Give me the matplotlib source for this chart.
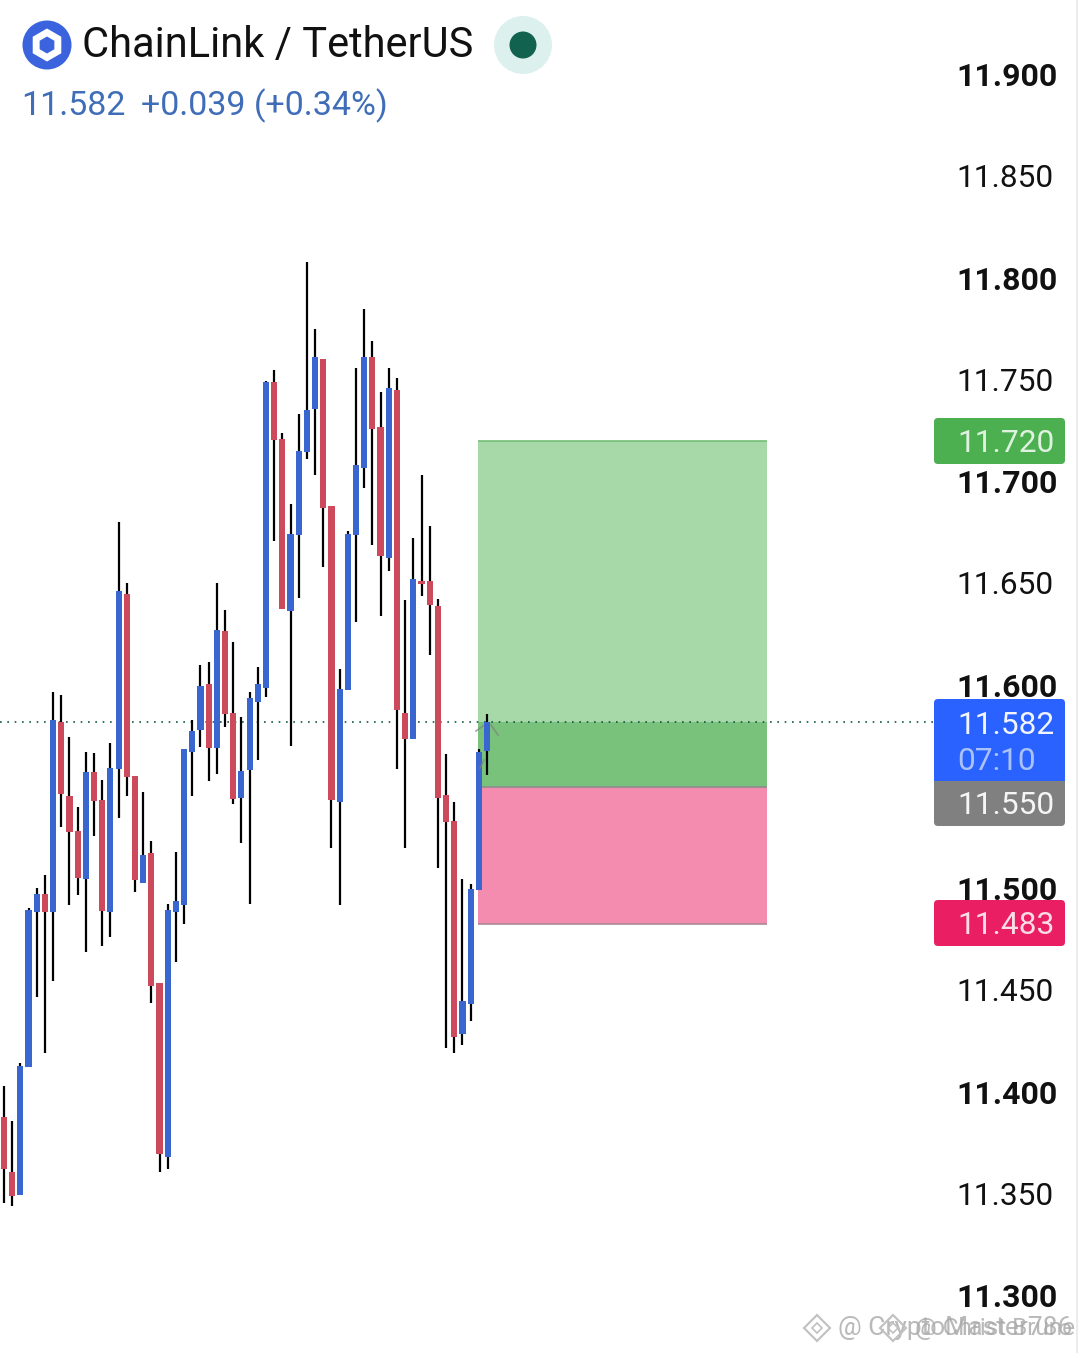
import numpy as np
import matplotlib
matplotlib.use("Agg")
import matplotlib.pyplot as plt
from matplotlib.patches import Circle, FancyBboxPatch, RegularPolygon, Rectangle

plt.rcParams['font.family'] = ['Roboto', 'DejaVu Sans']

# candles
opens = [11.3880, 11.3608, 11.3495, 11.4126, 11.4887, 11.4976, 11.4887, 11.5821, 11.5457, 11.5285,
         11.5050, 11.5575, 11.5438, 11.4887, 11.5590, 11.6450, 11.5556, 11.5030, 11.5177, 11.4536,
         11.3685, 11.4887, 11.4922, 11.5674, 11.5782, 11.6008, 11.5693, 11.6268, 11.5865, 11.5448,
         11.5585, 11.5919, 11.5988, 11.7492, 11.7212, 11.6367, 11.6740, 11.7148, 11.7359, 11.7605,
         11.6883, 11.5428, 11.5978, 11.6740, 11.7069, 11.7615, 11.7271, 11.6627, 11.7453, 11.5865,
         11.5738, 11.6514, 11.6514, 11.6391, 11.5462, 11.5335, 11.4288, 11.4435, 11.4996, 11.5679]
highs = [11.4030, 11.3860, 11.4145, 11.4907, 11.5005, 11.5069, 11.5968, 11.5954, 11.5747, 11.5403,
         11.5674, 11.5669, 11.5536, 11.5718, 11.6804, 11.6504, 11.5556, 11.5477, 11.5236, 11.4536,
         11.4927, 11.5182, 11.5688, 11.5831, 11.6101, 11.6116, 11.6504, 11.6371, 11.6214, 11.5846,
         11.5968, 11.6091, 11.7497, 11.7551, 11.7241, 11.6892, 11.7335, 11.8082, 11.7752, 11.7605,
         11.6883, 11.6082, 11.6760, 11.7561, 11.7851, 11.7693, 11.7443, 11.7561, 11.7512, 11.6421,
         11.6725, 11.7035, 11.6784, 11.6426, 11.5664, 11.5428, 11.5050, 11.5025, 11.5688, 11.5860]
lows = [11.3455, 11.3440, 11.3495, 11.4126, 11.4470, 11.4195, 11.4548, 11.5305, 11.4922, 11.4971,
        11.4691, 11.5261, 11.4720, 11.4765, 11.5349, 11.5457, 11.4986, 11.5030, 11.4442, 11.3610,
        11.3625, 11.4642, 11.4828, 11.5457, 11.5698, 11.5531, 11.5566, 11.5797, 11.5418, 11.5226,
        11.4927, 11.5634, 11.5944, 11.6711, 11.6376, 11.5703, 11.6430, 11.7113, 11.7035, 11.6583,
        11.5202, 11.4922, 11.5978, 11.6312, 11.6971, 11.6691, 11.6342, 11.6563, 11.5590, 11.5202,
        11.5738, 11.6440, 11.6150, 11.5104, 11.4219, 11.4195, 11.4234, 11.4352, 11.4996, 11.5561]
closes = [11.3622, 11.3490, 11.4130, 11.4897, 11.4976, 11.4887, 11.5831, 11.5467, 11.5281, 11.5055,
          11.5575, 11.5433, 11.4892, 11.5595, 11.6465, 11.5551, 11.5045, 11.5168, 11.4522, 11.3700,
          11.4897, 11.4941, 11.5688, 11.5777, 11.5998, 11.5693, 11.6273, 11.5860, 11.5443, 11.5580,
          11.5939, 11.6008, 11.7492, 11.7207, 11.6376, 11.6745, 11.7153, 11.7354, 11.7615, 11.6873,
          11.5438, 11.5983, 11.6745, 11.7084, 11.7615, 11.7261, 11.6637, 11.7462, 11.5880, 11.5738,
          11.6524, 11.6499, 11.6396, 11.5448, 11.5330, 11.4273, 11.4450, 11.5000, 11.5674, 11.5820]

tick_prices = [11.900, 11.850, 11.800, 11.750, 11.700, 11.650, 11.600, 11.550, 11.500, 11.450, 11.400, 11.350, 11.300]
tick_labels = ["11.900", "11.850", "11.800", "11.750", "11.700", "11.650", "11.600", "11.550", "11.500", "11.450", "11.400", "11.350", "11.300"]
tick_bold = [True, False, True, False, True, False, True, False, True, False, True, False, True]

last_price = 11.582
target_price = 11.720
entry_price = 11.550
stop_price = 11.483
box_start = 57.9
box_end = 93.2

BLUE = "#3a66cf"
RED = "#cc4a5c"

fig = plt.figure(figsize=(10.8, 13.53), dpi=100)
ax = fig.add_axes([0, 0, 1, 1])
ax.set_xlim(-0.489, 131.44)
ax.set_ylim(11.2720, 11.9369)
ax.axis("off")

x = np.arange(len(opens))
opens = np.array(opens)
closes = np.array(closes)
up = closes >= opens
ax.vlines(x, lows, highs, color="black", lw=1.6, zorder=3)
ax.bar(x, np.abs(closes - opens), bottom=np.minimum(opens, closes), width=0.75,
       color=[BLUE if u else RED for u in up], zorder=4)

# long position tool
ax.add_patch(Rectangle((box_start, last_price), box_end - box_start, target_price - last_price,
                       fc="#a6d8a8", ec="none", zorder=1))
ax.add_patch(Rectangle((box_start, entry_price), box_end - box_start, last_price - entry_price,
                       fc="#79c27c", ec="none", zorder=1))
ax.add_patch(Rectangle((box_start, stop_price), box_end - box_start, entry_price - stop_price,
                       fc="#f48cb0", ec="none", zorder=1))
ax.hlines(target_price, box_start, box_end, color="#74bd78", lw=1.2, zorder=2)
ax.hlines(entry_price, box_start, box_end, color="#8c8c8c", lw=1.2, zorder=2)
ax.hlines(stop_price, box_start, box_end, color="#a88a96", lw=1.2, zorder=2)

ax.plot([-0.489, 113.7], [last_price, last_price], color="#14574a", lw=1.2,
        linestyle=(0, (1, 3.4)), zorder=2)

# price scale labels sit under the price tags
for price, label, bold in zip(tick_prices, tick_labels, tick_bold):
    ax.text(116.3, price - 0.001, label, fontsize=23 if bold else 22.8, color="#111111", va="center", ha="left",
            fontweight="bold" if bold else "normal", zorder=5)

# overlay in pixels for the header, tags and watermark
pix = fig.add_axes([0, 0, 1, 1], facecolor="none")
pix.set_xlim(0, 1080)
pix.set_ylim(1353, 0)
pix.axis("off")

pix.add_patch(Circle((47, 45), 24.5, fc="#3b63dd", ec="none"))
pix.add_patch(RegularPolygon((47, 45), 6, radius=16.5, fc="white", ec="none"))
pix.add_patch(RegularPolygon((47, 45), 6, radius=8.5, fc="#3b63dd", ec="none"))
pix.text(82, 45, "ChainLink / TetherUS", fontsize=30, color="#111111", va="center", ha="left")
pix.add_patch(Circle((523, 45), 29, fc="#dcf0ee", ec="none"))
pix.add_patch(Circle((523, 45), 13.5, fc="#11624f", ec="none"))
pix.text(21, 106, "11.582", fontsize=24.5, color="#3f6db8", va="center", ha="left")
pix.text(141, 106, "+0.039 (+0.34%)", fontsize=24.5, color="#3f6db8", va="center", ha="left")


def price_tag(top, bottom, color):
    pix.add_patch(FancyBboxPatch((936, top + 2), 127, bottom - top - 4,
                                 boxstyle="round,pad=2,rounding_size=4", fc=color, ec="none", zorder=6))


price_tag(418, 464, "#4caf50")
price_tag(699, 781, "#2962ff")
price_tag(781, 826, "#808080")
price_tag(900, 946, "#e91e63")
pix.add_patch(Rectangle((934, 775), 131, 7, fc="#2962ff", ec="none", zorder=6))
pix.add_patch(Rectangle((934, 781), 131, 8, fc="#808080", ec="none", zorder=6))

for txt, yy, col in [("11.720", 443, "#dff2e0"), ("11.582", 725, "#f2f5ff"), ("07:10", 762, "#a9c2fa"),
                     ("11.550", 806, "#f5f5f5"), ("11.483", 926, "#fbdde8")]:
    pix.text(957, yy, txt, fontsize=22.8, color=col, va="center", ha="left", zorder=7)

# small cursor marks round the last candle
for xs, ys in [([476, 483], [731, 726]), ([491, 498], [725, 735]), ([480, 484], [768, 760])]:
    pix.plot(xs, ys, color="#808080", lw=1.2, alpha=0.7, zorder=5)

# faint edge of the screenshot
pix.plot([1077, 1077], [0, 1353], color="#ececec", lw=1.5)

# doubled watermark
for cx, tx, label, size in [(817, 838, "@ CryptoMaster786", 19), (893, 915, "@ Christ Brune", 17.5)]:
    pix.add_patch(RegularPolygon((cx, 1328), 4, radius=13, fc="none", ec="#c0c0c0", lw=1.5, zorder=8))
    pix.add_patch(RegularPolygon((cx, 1328), 4, radius=5, fc="none", ec="#c0c0c0", lw=1.2, zorder=8))
    pix.text(tx, 1328, label, fontsize=size, color="#a8a8a8", alpha=0.8, va="center", ha="left", zorder=8)

fig.savefig("out.png", dpi=100, facecolor="white")
plt.close(fig)
